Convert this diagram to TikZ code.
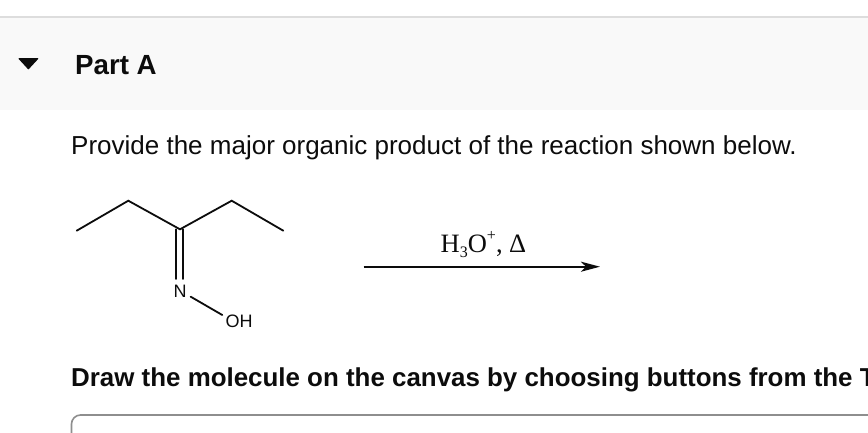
\documentclass[tikz,border=0pt]{standalone}
\usepackage{fontspec}
\setmainfont{Liberation Sans}
\newfontfamily\serifchem{Liberation Serif}
\usetikzlibrary{arrows.meta}
\definecolor{panelgray}{HTML}{F9F9F9}
\definecolor{rulegray}{HTML}{DDDDDD}
\definecolor{boxgray}{HTML}{8E8E8E}
\definecolor{inkblack}{HTML}{0C0C0C}
\tikzset{
  x=1pt,y=-1pt,
  bond/.style={draw=inkblack,line width=1.8pt,line cap=round},
  atom/.style={font=\fontsize{18}{18}\selectfont,text=inkblack,inner sep=0pt},
  pagetext/.style={anchor=base west,inner sep=0pt,text=inkblack},
}
\begin{document}
\begin{tikzpicture}
\useasboundingbox (0,0) rectangle (868,432);
\clip (0,0) rectangle (868,432);
\fill[white] (0,0) rectangle (868,432);
% header
\fill[panelgray] (0,17) rectangle (868,110);
\draw[rulegray,line width=1.6pt] (0,17) -- (868,17);
\filldraw[inkblack,line width=1pt,line join=round] (19,58.6) -- (37.8,58.6) -- (28.4,68.8) -- cycle;
\node[pagetext,font=\bfseries\fontsize{27.7}{27.7}\selectfont] (part) at (75,74) {Part A};
\node[pagetext,font=\fontsize{26}{26}\selectfont] (q) at (71,154) {Provide the major organic product of the reaction shown below.};
% molecule
\coordinate (c1) at (76.7,230.7);
\coordinate (c2) at (128.3,200.7);
\coordinate (c3) at (180,229.3);
\coordinate (c4) at (231.7,200.7);
\coordinate (c5) at (283.3,230.7);
\coordinate (dla) at (176.3,229.3);
\coordinate (dlb) at (176.3,279);
\coordinate (dra) at (183.3,229.3);
\coordinate (drb) at (183.3,279);
\coordinate (nb) at (190.7,296.7);
\coordinate (ob) at (222.3,315);
\node[atom] (n) at (180,291) {N};
\node[atom] (oh) at (239,321) {OH};
\draw[bond] (c1) -- (c2) -- (c3) -- (c4) -- (c5);
\draw[bond] (dla) -- (dlb);
\draw[bond] (dra) -- (drb);
\draw[bond] (nb) -- (ob);
% reaction arrow
\coordinate (as) at (363.5,266.7);
\coordinate (ae) at (600,266.7);
\draw[draw=inkblack,line width=2.2pt,-{Stealth[length=19pt,width=10pt,inset=5pt]}] (as) -- (ae);
\node[font=\serifchem\fontsize{26.5}{26.5}\selectfont,text=inkblack,inner sep=0pt,anchor=base] (cond) at (483.5,252) {H\raisebox{-0.22em}{\fontsize{16}{16}\selectfont 3}O\raisebox{0.42em}{\fontsize{16}{16}\selectfont +}, Δ};
% prompt
\node[pagetext,font=\bfseries\fontsize{25.9}{25.9}\selectfont] (draw) at (71,386) {Draw the molecule on the canvas by choosing buttons from the T};
% canvas box
\draw[boxgray,line width=1.6pt,rounded corners=9pt] (71.5,450) -- (71.5,415) -- (880,415);
\end{tikzpicture}
\end{document}
